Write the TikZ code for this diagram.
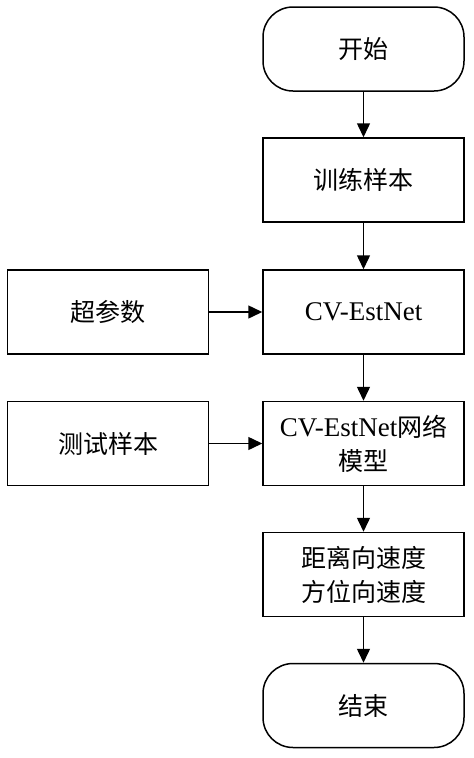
\documentclass[tikz,border=0pt]{standalone}
\usepackage{fontspec}
\setmainfont{Liberation Serif}[Scale=1.08]
\newfontfamily\cjk{Noto Sans CJK SC}
\usetikzlibrary{arrows.meta,shapes.misc}
\begin{document}
\begin{tikzpicture}[x=1pt,y=1pt,
  base/.style={draw,line width=1.5pt,minimum width=201pt,minimum height=84pt,align=center,inner sep=2pt,
    font=\fontsize{25}{34}\selectfont},
  procbox/.style={base,rectangle},
  termbox/.style={base,rectangle,rounded corners=30pt},
  flow/.style={line width=1.5pt,-{Triangle[length=14pt,width=13pt]}}]
\useasboundingbox (0,0) rectangle (474,-758);
\node[termbox] (start) at (363.5,-49) {\cjk 开始};
\node[procbox] (train) at (363.5,-180) {\cjk 训练样本};
\node[procbox] (cv) at (363.5,-312) {CV-EstNet};
\node[procbox] (hyper) at (108,-312) {\cjk 超参数};
\node[procbox] (model) at (363.5,-443.5) {CV-EstNet{\cjk 网络}\\{\cjk 模型}};
\node[procbox] (test) at (108,-443.5) {\cjk 测试样本};
\node[procbox] (vel) at (363.5,-574.5) {\cjk 距离向速度\\\cjk 方位向速度};
\node[termbox] (stop) at (363.5,-705.5) {\cjk 结束};
\draw[flow] (start) -- (train);
\draw[flow] (train) -- (cv);
\draw[flow] (hyper) -- (cv);
\draw[flow] (cv) -- (model);
\draw[flow] (test) -- (model);
\draw[flow] (model) -- (vel);
\draw[flow] (vel) -- (stop);
\end{tikzpicture}
\end{document}
